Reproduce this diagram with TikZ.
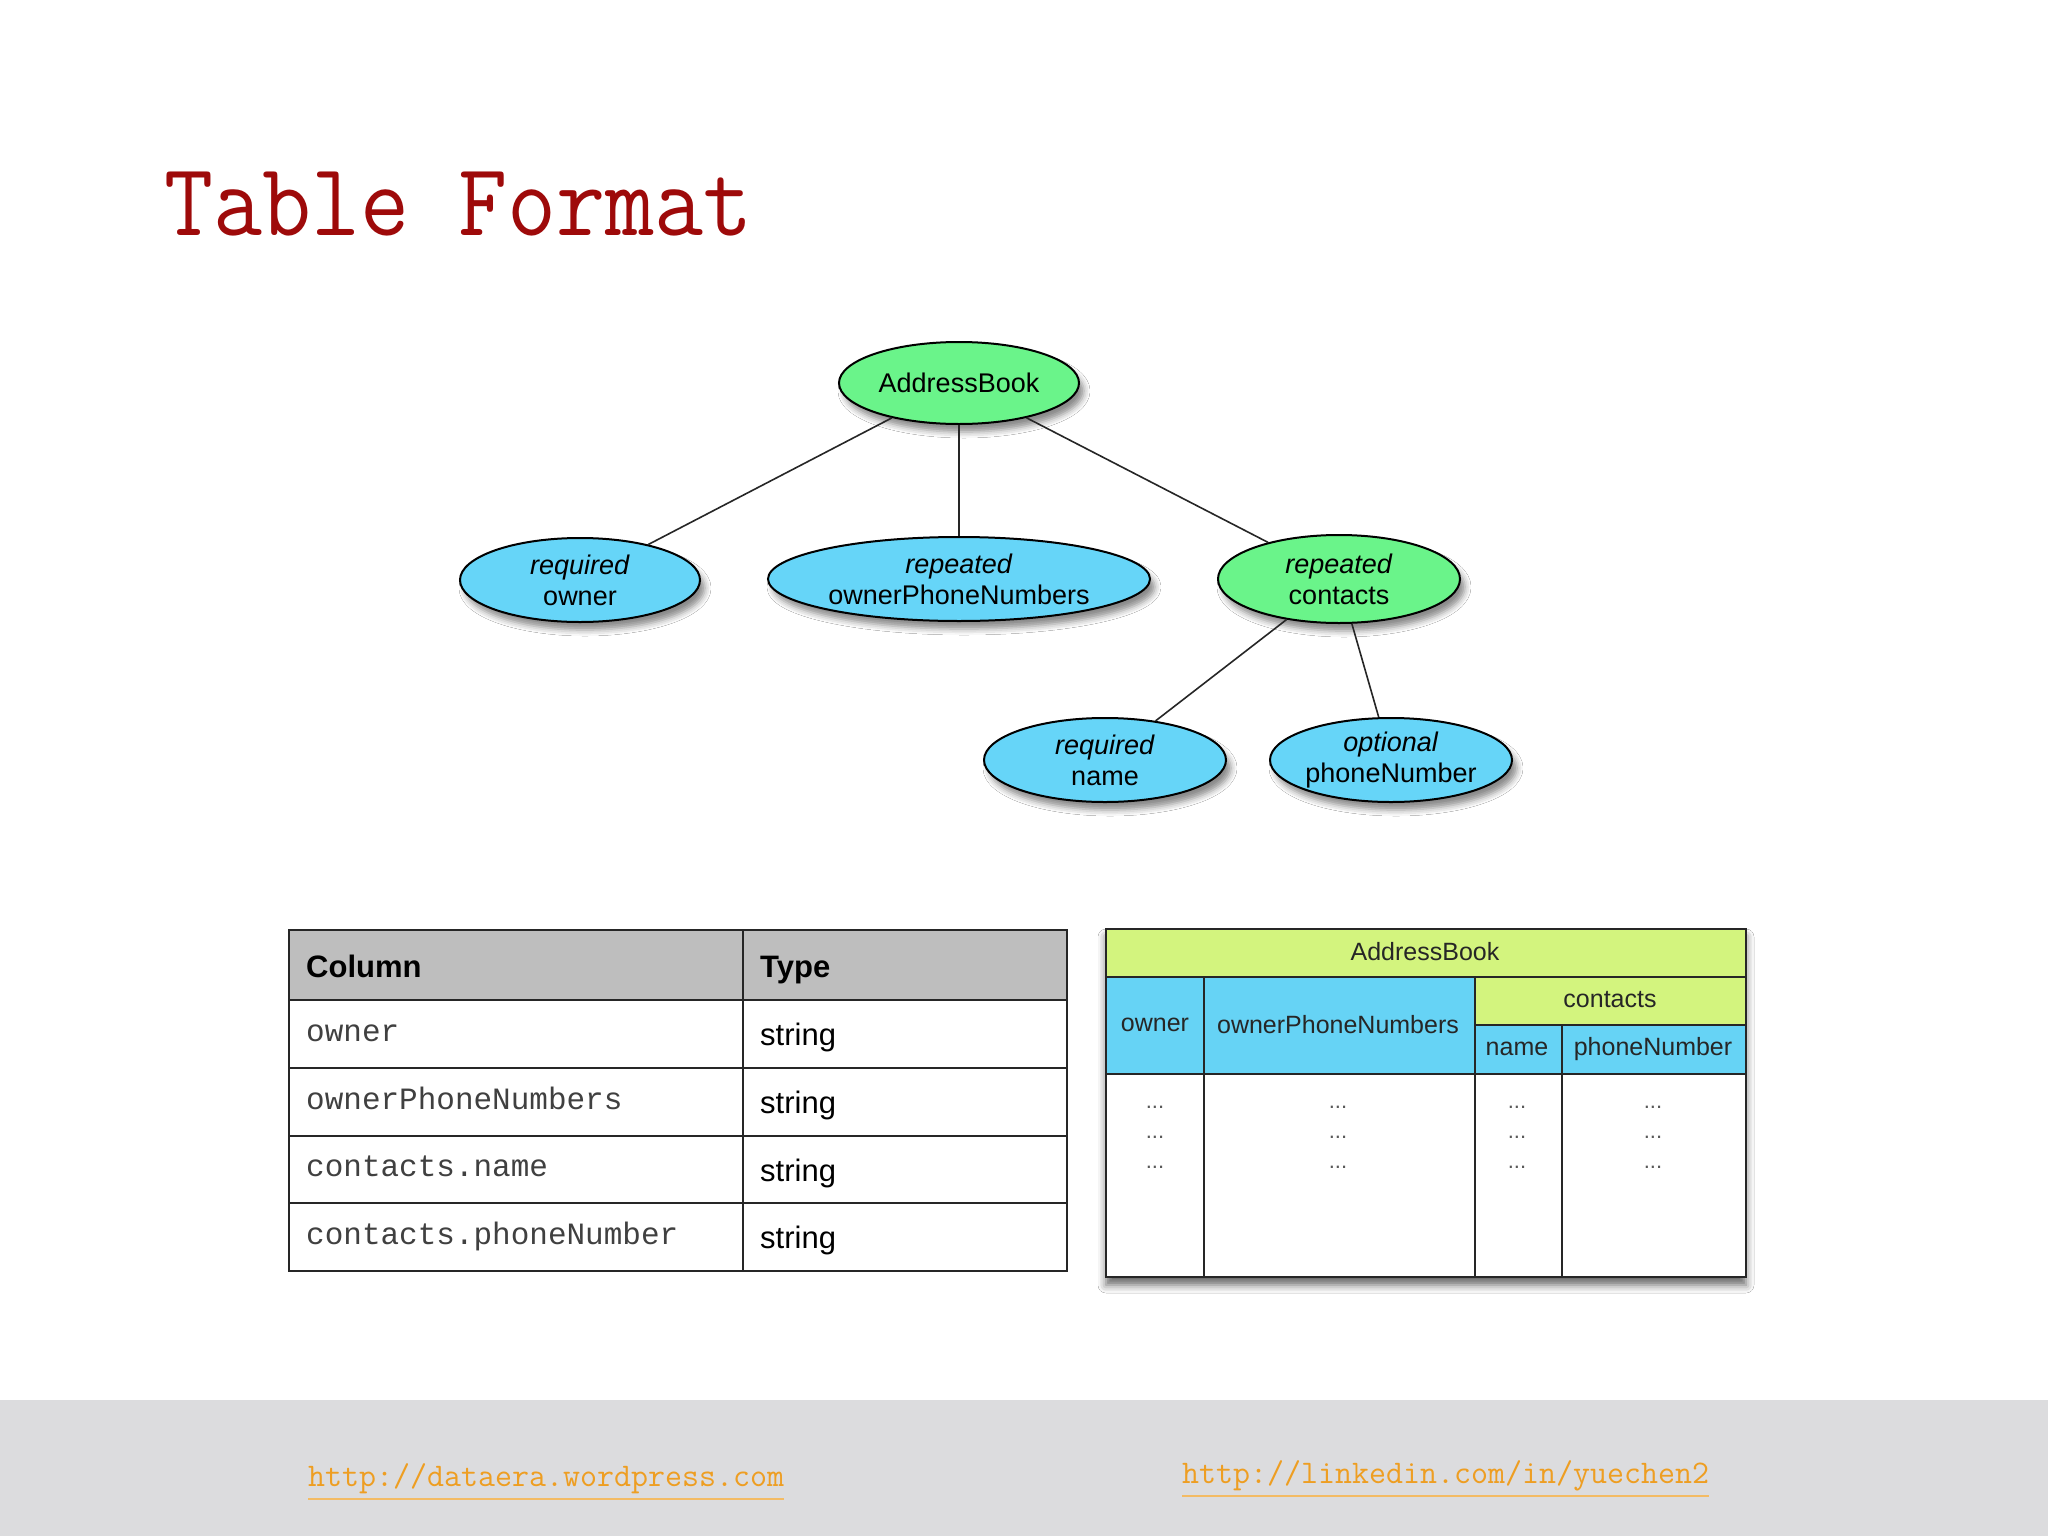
\documentclass[tikz,border=0pt]{standalone}
\usepackage{fontspec}
\setmainfont{Liberation Sans}
\newfontfamily\courierlike{Liberation Mono}
\usetikzlibrary{shapes.geometric,shadows.blur}
\definecolor{titlered}{HTML}{9E0A0A}
\definecolor{treegreen}{HTML}{6AF48A}
\definecolor{treeblue}{HTML}{66D5F8}
\definecolor{tabyellow}{HTML}{D3F47E}
\definecolor{tabblue}{HTML}{66D3F5}
\definecolor{hdrgray}{HTML}{BEBEBE}
\definecolor{footgray}{HTML}{DCDCDE}
\definecolor{linkorange}{HTML}{EE9E22}
\tikzset{
  tnode/.style={ellipse, draw=black, line width=2pt, inner sep=0pt, align=center,
    font=\fontsize{27}{31}\selectfont,
    blur shadow={shadow xshift=5pt, shadow yshift=-8pt, shadow blur radius=6pt, shadow opacity=45}},
  gnode/.style={tnode, fill=treegreen},
  bnode/.style={tnode, fill=treeblue},
  treelink/.style={line width=1.6pt, draw=black!85},
  gridline/.style={line width=2pt, draw=black!85},
  hdrtext/.style={anchor=base west, inner sep=0pt, font=\fontsize{31}{31}\selectfont\bfseries},
  monotext/.style={anchor=base west, inner sep=0pt, font=\fontsize{31}{31}\selectfont\courierlike, text=black!75},
  typetext/.style={anchor=base west, inner sep=0pt, font=\fontsize{31}{31}\selectfont},
  gridtext/.style={inner sep=0pt, font=\fontsize{25}{25}\selectfont, text=black!85},
  dots/.style={inner sep=0pt, font=\fontsize{22}{22}\selectfont, text=black!65},
  linktext/.style={anchor=base west, inner sep=0pt, font=\fontsize{33}{33}\selectfont\ttfamily, text=linkorange}
}
\begin{document}
\begin{tikzpicture}[x=1pt,y=-1pt]
\useasboundingbox (0,0) rectangle (2048,1536);
\fill[white] (0,0) rectangle (2048,1536);
% footer band
\fill[footgray] (0,1400) rectangle (2048,1536);

% title
\node[anchor=base west, inner sep=0pt, text=titlered, font=\fontsize{104}{104}\selectfont\ttfamily] (title) at (164,235) {\scalebox{0.915}[1]{Table Format}};

% tree
\node[gnode, minimum width=240pt, minimum height=82pt] (ab) at (959,383) {AddressBook};
\node[bnode, minimum width=240pt, minimum height=84pt] (own) at (580,580) {\textit{required}\\owner};
\node[bnode, minimum width=382pt, minimum height=84pt] (opn) at (959,579) {\textit{repeated}\\ownerPhoneNumbers};
\node[gnode, minimum width=242pt, minimum height=88pt] (con) at (1339,579) {\textit{repeated}\\contacts};
\node[bnode, minimum width=242pt, minimum height=84pt] (nm) at (1105,760) {\textit{required}\\name};
\node[bnode, minimum width=242pt, minimum height=84pt] (pn) at (1391,760) {\textit{optional}\\phoneNumber};
\draw[treelink] (ab) -- (own);
\draw[treelink] (ab) -- (opn);
\draw[treelink] (ab) -- (con);
\draw[treelink] (con) -- (nm);
\draw[treelink] (con) -- (pn);

% left table
\fill[hdrgray] (289,930) rectangle (1067,1000);
\draw[gridline] (289,930) rectangle (1067,1271);
\draw[gridline] (743,930) -- (743,1271);
\draw[gridline] (289,1000) -- (1067,1000);
\draw[gridline] (289,1068) -- (1067,1068);
\draw[gridline] (289,1136) -- (1067,1136);
\draw[gridline] (289,1203) -- (1067,1203);
\node[hdrtext] (hcol) at (306,977) {Column};
\node[hdrtext] (htyp) at (760,977) {Type};
\node[monotext] (r1c) at (306,1041) {owner};
\node[monotext] (r2c) at (306,1109) {ownerPhoneNumbers};
\node[monotext] (r3c) at (306,1176) {contacts.name};
\node[monotext] (r4c) at (306,1244) {contacts.phoneNumber};
\node[typetext] (r1t) at (760,1045) {string};
\node[typetext] (r2t) at (760,1113) {string};
\node[typetext] (r3t) at (760,1181) {string};
\node[typetext] (r4t) at (760,1248) {string};

% right table
\fill[white, blur shadow={shadow xshift=0pt, shadow yshift=-8pt, shadow blur radius=8pt, shadow opacity=60}] (1106,929) rectangle (1746,1277);
\fill[tabyellow] (1106,929) rectangle (1746,977);
\fill[tabblue] (1106,977) rectangle (1475,1074);
\fill[tabyellow] (1475,977) rectangle (1746,1025);
\fill[tabblue] (1475,1025) rectangle (1746,1074);
\draw[gridline] (1106,929) rectangle (1746,1277);
\draw[gridline] (1106,977) -- (1746,977);
\draw[gridline] (1475,1025) -- (1746,1025);
\draw[gridline] (1106,1074) -- (1746,1074);
\draw[gridline] (1204,977) -- (1204,1277);
\draw[gridline] (1475,977) -- (1475,1277);
\draw[gridline] (1562,1025) -- (1562,1277);
\node[gridtext] (gab) at (1425,952) {AddressBook};
\node[gridtext] (gown) at (1155,1025) {owner};
\node[gridtext] (gopn) at (1338,1025) {ownerPhoneNumbers};
\node[gridtext] (gcon) at (1610,1000) {contacts};
\node[gridtext] (gnm) at (1517,1049) {name};
\node[gridtext] (gpn) at (1653,1049) {phoneNumber};
\foreach \cx/\nm in {1155/a,1338/b,1517/c,1653/d}{
  \foreach \cy/\k in {1108/1,1138/2,1168/3}{
    \node[dots, anchor=base] (dot\nm\k) at (\cx,\cy) {...};
  }
}

% footer links
\node[linktext] (link1) at (308,1486) {http://dataera.wordpress.com};
\node[linktext] (link2) at (1182,1483) {http://linkedin.com/in/yuechen2};
\draw[linkorange!70, line width=2pt] ([yshift=-5pt]link1.south west) -- ([yshift=-5pt]link1.south east);
\draw[linkorange!70, line width=2pt] ([yshift=-5pt]link2.south west) -- ([yshift=-5pt]link2.south east);
\end{tikzpicture}
\end{document}
